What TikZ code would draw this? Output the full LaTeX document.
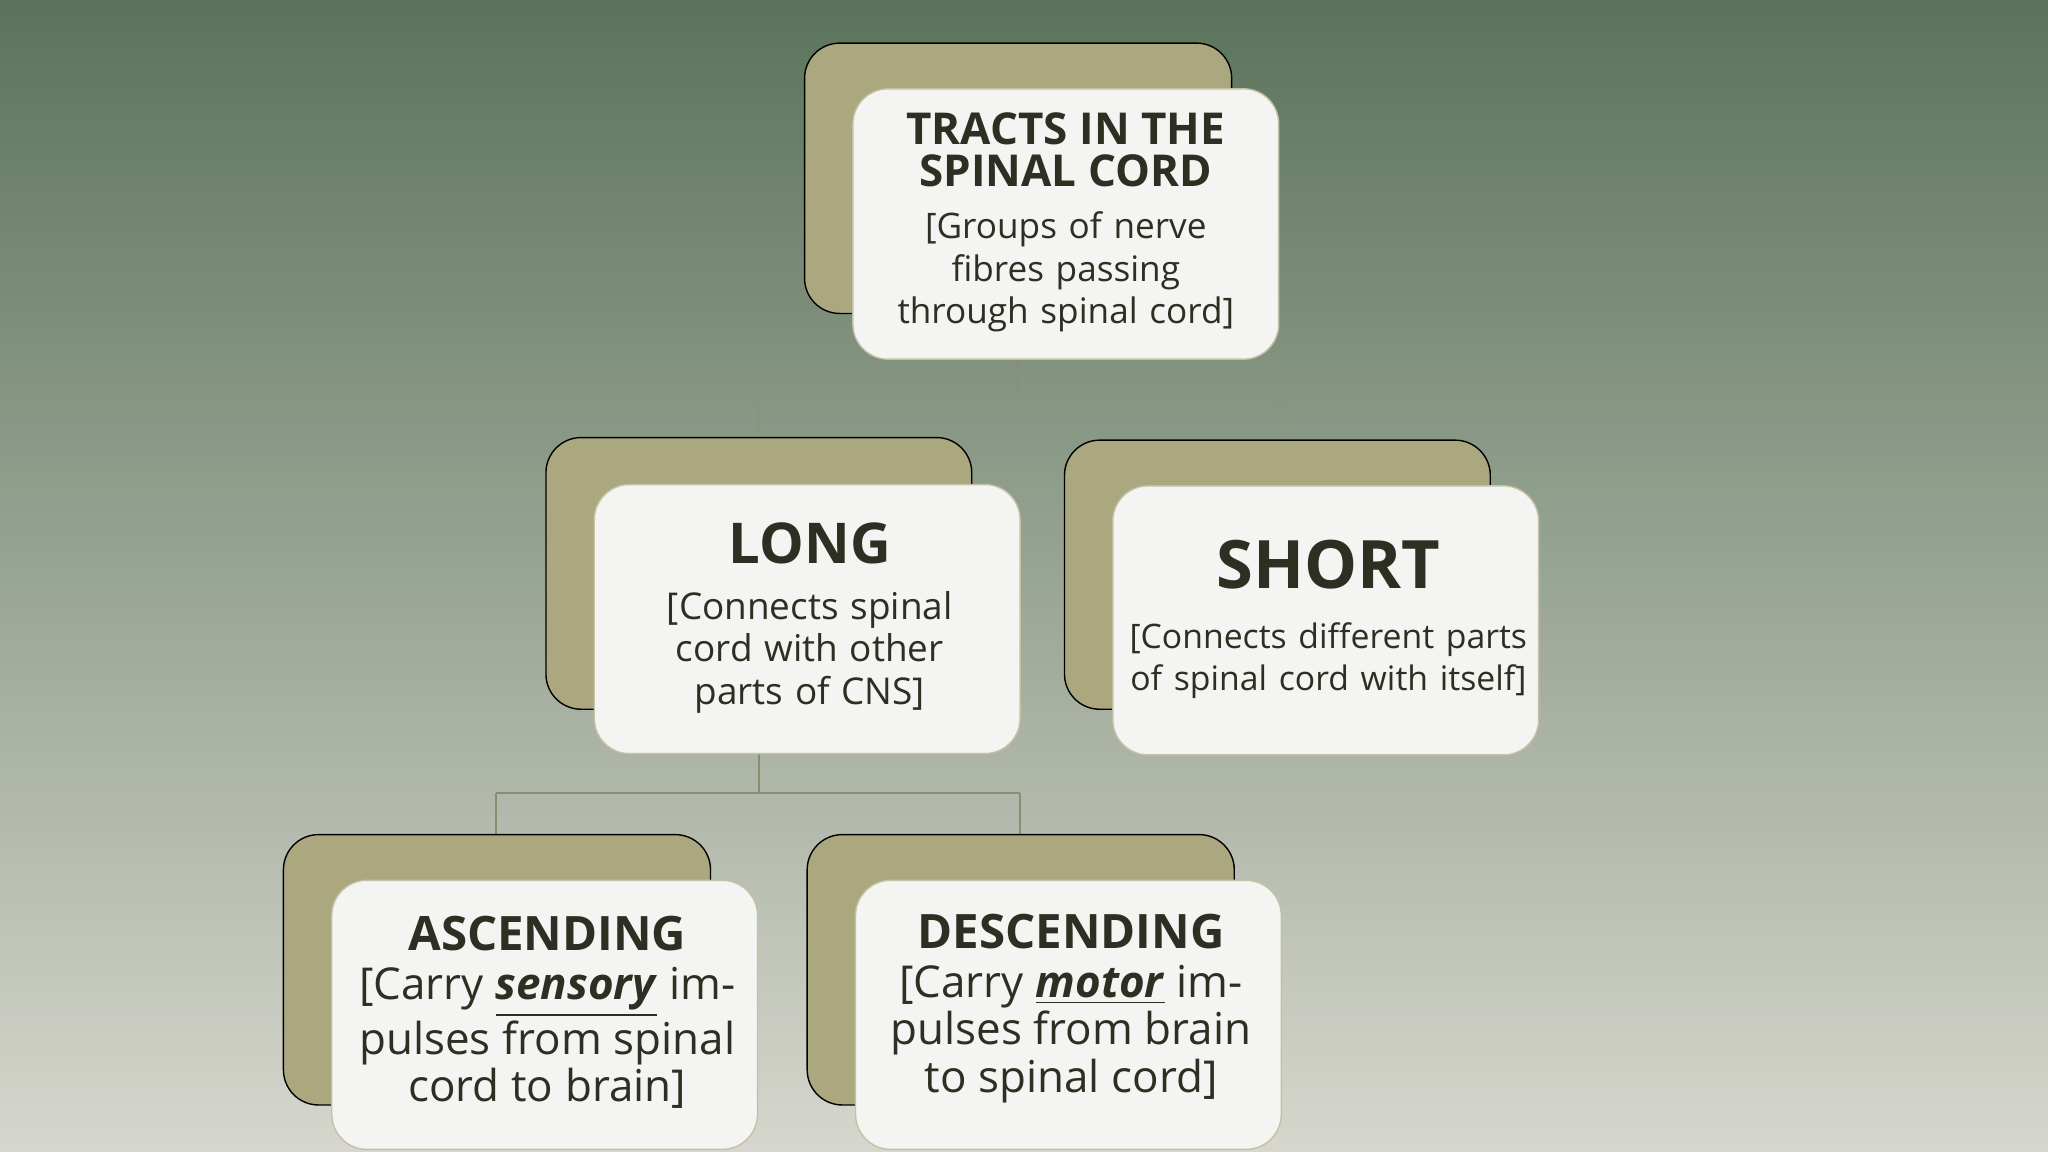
\documentclass[tikz,border=0pt]{standalone}
\usepackage{fontspec}
\setmainfont{Open Sans}
\definecolor{olive}{HTML}{ABA77F}
\definecolor{card}{HTML}{F4F4F2}
\definecolor{ink}{HTML}{2E2E22}
\definecolor{lnk}{HTML}{8C8C70}
\begin{document}
\begin{tikzpicture}[x=0.013061cm,y=-0.013061cm,
  back/.style={fill=olive,rounded corners=10pt},
  front/.style={fill=card,draw=olive!70,line width=0.4pt,rounded corners=10pt},
  txt/.style={text=ink,align=center,text width=4.0cm},
  conn/.style={draw=lnk,line width=0.6pt}]
\shade[top color=black!60!green!25!gray!95!black, bottom color=black!2!yellow!10!gray!35!white] (0,0) rectangle (1568,882);
\useasboundingbox (0,0) rectangle (1568,882);
% connectors
\coordinate (t1) at (779,275); \coordinate (t2) at (779,305);
\coordinate (l1) at (581,577); \coordinate (l2) at (581,607);
\coordinate (la) at (380,607); \coordinate (ld) at (781,607);
\coordinate (a1) at (380,639); \coordinate (d1) at (781,639);
\draw[conn,draw opacity=0.35] (t1)--(t2) (580,305)--(980,305) (580,305)--(580,335) (980,305)--(980,337);
\draw[conn] (l1)--(l2) (la)--(ld) (la)--(a1) (ld)--(d1);
% top
\draw[back] (616,33) rectangle (943,240);
\draw[front] (653,68) rectangle (979,275);
\node[txt] (top) at (816,170) {{\fontsize{12.5}{13.5}\selectfont\bfseries TRACTS IN THE\\SPINAL CORD}\\[3pt]{\fontsize{10}{11}\selectfont [Groups of nerve fibres passing through spinal cord]}};
% long
\draw[back] (418,335) rectangle (744,543);
\draw[front] (455,371) rectangle (781,577);
\node[txt] (long) at (620,473) {{\fontsize{16}{18}\selectfont\bfseries LONG}\\[4pt]{\fontsize{10.5}{11.8}\selectfont [Connects spinal cord with other parts of CNS]}};
% short
\draw[back] (815,337) rectangle (1141,543);
\draw[front] (852,372) rectangle (1178,578);
\node[txt] (short) at (1017,474) {{\fontsize{19}{21}\selectfont\bfseries SHORT}\\[5pt]{\fontsize{9.6}{10.4}\selectfont [Connects different parts of spinal cord with itself]}};
% ascending
\draw[back] (217,639) rectangle (544,846);
\draw[front] (254,674) rectangle (580,880);
\node[txt] (asc) at (419,775) {{\fontsize{13.5}{15}\selectfont\bfseries ASCENDING}\\[2pt]{\fontsize{12.5}{13}\selectfont [Carry \underline{\textbf{\textit{sensory}}} impulses from spinal cord to brain]}};
% descending
\draw[back] (618,639) rectangle (945,846);
\draw[front] (655,674) rectangle (981,880);
\node[txt] (desc) at (820,772) {{\fontsize{13.5}{15}\selectfont\bfseries DESCENDING}\\[2pt]{\fontsize{12.5}{13}\selectfont [Carry \underline{\textbf{\textit{motor}}} impulses from brain to spinal cord]}};
\end{tikzpicture}
\end{document}
